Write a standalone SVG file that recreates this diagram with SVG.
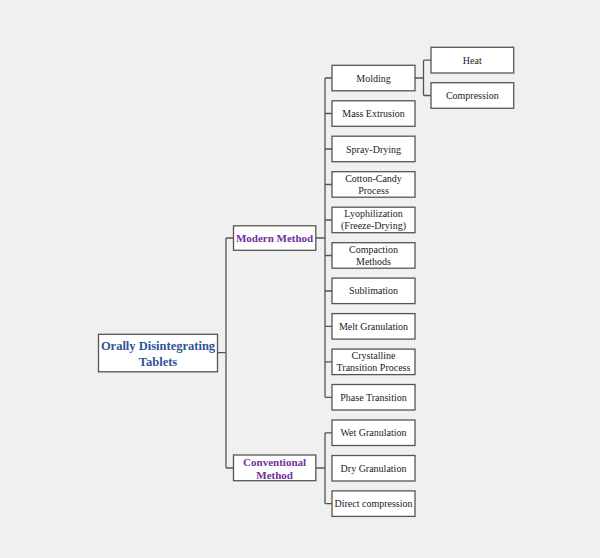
<svg xmlns="http://www.w3.org/2000/svg" width="600" height="558" viewBox="0 0 600 558">
<style>
.bg{fill:#f0f0f0}
.box{fill:#ffffff;stroke:#555555;stroke-width:1.3}
.ln{fill:none;stroke:#555555;stroke-width:1.3}
.t{font-family:"Liberation Serif","Times New Roman",serif;font-size:10px;fill:#222222;text-anchor:middle}
.root{font-family:"Liberation Serif","Times New Roman",serif;font-size:12.5px;font-weight:bold;fill:#2e5597;text-anchor:middle}
.mid{font-family:"Liberation Serif","Times New Roman",serif;font-size:11px;font-weight:bold;fill:#7030a0;text-anchor:middle}
</style>
<rect class="bg" x="0" y="0" width="600" height="558"/>
<g id="connectors">
<path class="ln" d="M218,352.7 H226 M226,238 V468 M226,238 H233 M226,468 H233"/>
<path class="ln" d="M316,238 H325 M325,78 V397.3 M325,78 H332 M325,113.5 H332 M325,149 H332 M325,184.5 H332 M325,220 H332 M325,255.5 H332 M325,291 H332 M325,326.4 H332 M325,361.9 H332 M325,397.3 H332"/>
<path class="ln" d="M316,468 H325 M325,432.8 V503.7 M325,432.8 H332 M325,503.7 H332"/>
<path class="ln" d="M415,78 H423.5 M423.5,60.2 V95.5 M423.5,60.2 H431 M423.5,95.5 H431"/>
</g>
<g id="root"><rect class="box" x="98.5" y="334.3" width="119" height="37.5"/><text class="root" x="158" y="350">Orally Disintegrating</text><text class="root" x="158" y="365.5">Tablets</text></g>
<g id="modern"><rect class="box" x="233.5" y="225.8" width="82.3" height="24.5"/><text class="mid" x="274.6" y="241.8">Modern Method</text></g>
<g id="conventional"><rect class="box" x="233.5" y="455" width="82.3" height="25.7"/><text class="mid" x="274.6" y="465.5">Conventional</text><text class="mid" x="274.6" y="479">Method</text></g>
<g id="molding"><rect class="box" x="332" y="65.3" width="83" height="25.5"/><text class="t" x="373.5" y="81.5">Molding</text></g>
<g id="heat"><rect class="box" x="431" y="47.3" width="82.7" height="25.7"/><text class="t" x="472.3" y="63.5">Heat</text></g>
<g id="compression"><rect class="box" x="431" y="82.7" width="82.7" height="25.6"/><text class="t" x="472.3" y="98.8">Compression</text></g>
<g id="mass-extrusion"><rect class="box" x="332" y="100.8" width="83" height="25.5"/><text class="t" x="373.5" y="117">Mass Extrusion</text></g>
<g id="spray-drying"><rect class="box" x="332" y="136.2" width="83" height="25.5"/><text class="t" x="373.5" y="152.5">Spray-Drying</text></g>
<g id="cotton-candy"><rect class="box" x="332" y="171.7" width="83" height="25.5"/><text class="t" x="373.5" y="181.5">Cotton-Candy</text><text class="t" x="373.5" y="193.8">Process</text></g>
<g id="lyophilization"><rect class="box" x="332" y="207.2" width="83" height="25.5"/><text class="t" x="373.5" y="217">Lyophilization</text><text class="t" x="373.5" y="229.3">(Freeze-Drying)</text></g>
<g id="compaction"><rect class="box" x="332" y="242.7" width="83" height="25.5"/><text class="t" x="373.5" y="252.5">Compaction</text><text class="t" x="373.5" y="264.8">Methods</text></g>
<g id="sublimation"><rect class="box" x="332" y="278.1" width="83" height="25.5"/><text class="t" x="373.5" y="294.4">Sublimation</text></g>
<g id="melt-granulation"><rect class="box" x="332" y="313.6" width="83" height="25.5"/><text class="t" x="373.5" y="329.9">Melt Granulation</text></g>
<g id="crystalline"><rect class="box" x="332" y="349.1" width="83" height="25.5"/><text class="t" x="373.5" y="358.9">Crystalline</text><text class="t" x="373.5" y="371.2">Transition Process</text></g>
<g id="phase-transition"><rect class="box" x="332" y="384.5" width="83" height="25.5"/><text class="t" x="373.5" y="400.8">Phase Transition</text></g>
<g id="wet-granulation"><rect class="box" x="332" y="420" width="83" height="25.5"/><text class="t" x="373.5" y="436.3">Wet Granulation</text></g>
<g id="dry-granulation"><rect class="box" x="332" y="455.5" width="83" height="25.5"/><text class="t" x="373.5" y="471.8">Dry Granulation</text></g>
<g id="direct-compression"><rect class="box" x="332" y="490.9" width="83" height="25.5"/><text class="t" x="373.5" y="507.2">Direct compression</text></g>
</svg>
